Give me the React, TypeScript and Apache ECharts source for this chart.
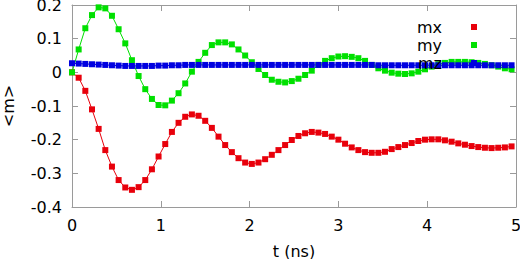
import React, { useEffect, useRef } from "react";
import * as echarts from "echarts";

const timeNs = [
  0, 0.075, 0.15, 0.225, 0.3, 0.375, 0.45, 0.525, 0.6, 0.675,
  0.75, 0.825, 0.9, 0.975, 1.05, 1.125, 1.2, 1.275, 1.35, 1.425,
  1.5, 1.575, 1.65, 1.725, 1.8, 1.875, 1.95, 2.025, 2.1, 2.175,
  2.25, 2.325, 2.4, 2.475, 2.55, 2.625, 2.7, 2.775, 2.85, 2.925,
  3.0, 3.075, 3.15, 3.225, 3.3, 3.375, 3.45, 3.525, 3.6, 3.675,
  3.75, 3.825, 3.9, 3.975, 4.05, 4.125, 4.2, 4.275, 4.35, 4.425,
  4.5, 4.575, 4.65, 4.725, 4.8, 4.875, 4.95,
];

const mx = [
  0, -0.016, -0.055, -0.11, -0.168, -0.231, -0.28, -0.32, -0.342, -0.349,
  -0.341, -0.32, -0.288, -0.25, -0.213, -0.177, -0.15, -0.132, -0.125, -0.129,
  -0.144, -0.165, -0.191, -0.216, -0.237, -0.255, -0.268, -0.272, -0.268, -0.258,
  -0.245, -0.231, -0.216, -0.201, -0.189, -0.181, -0.177, -0.179, -0.183, -0.191,
  -0.2, -0.212, -0.223, -0.231, -0.237, -0.239, -0.239, -0.236, -0.228, -0.222,
  -0.216, -0.21, -0.204, -0.2, -0.199, -0.199, -0.202, -0.206, -0.211, -0.215,
  -0.219, -0.222, -0.224, -0.225, -0.224, -0.223, -0.22,
];

const my = [
  0, 0.068, 0.131, 0.17, 0.193, 0.19, 0.168, 0.128, 0.086, 0.036,
  -0.011, -0.05, -0.079, -0.097, -0.098, -0.084, -0.062, -0.033, 0.002, 0.031,
  0.058, 0.081, 0.089, 0.089, 0.083, 0.068, 0.05, 0.03, 0.01, -0.008,
  -0.022, -0.028, -0.03, -0.026, -0.019, -0.008, 0.005, 0.022, 0.034, 0.042,
  0.047, 0.048, 0.046, 0.042, 0.034, 0.022, 0.012, 0.005, -0.001, -0.004,
  -0.005, -0.003, 0.002, 0.009, 0.017, 0.024, 0.028, 0.031, 0.031, 0.031,
  0.03, 0.028, 0.025, 0.021, 0.017, 0.012, 0.009,
];

const mz = [
  0.027, 0.026, 0.025, 0.024, 0.023, 0.022, 0.021, 0.02, 0.019, 0.019,
  0.019, 0.019, 0.019, 0.02, 0.02, 0.021, 0.021, 0.022, 0.022, 0.022,
  0.022, 0.022, 0.022, 0.022, 0.022, 0.022, 0.022, 0.022, 0.022, 0.022,
  0.022, 0.022, 0.022, 0.022, 0.022, 0.022, 0.022, 0.022, 0.022, 0.022,
  0.022, 0.022, 0.022, 0.022, 0.022, 0.022, 0.021, 0.021, 0.021, 0.021,
  0.021, 0.021, 0.021, 0.021, 0.021, 0.021, 0.021, 0.021, 0.021, 0.021,
  0.021, 0.021, 0.021, 0.021, 0.021, 0.021, 0.021,
];

const seriesNames = ["mx", "my", "mz"];
const seriesColors = ["#e8000b", "#00e000", "#0000e0"];
const seriesValues = [mx, my, mz];

const xTicks = { min: 0, max: 5, interval: 1 };
const yTicks = { min: -0.4, max: 0.2, interval: 0.1 };

const FONT = "DejaVu Sans";
const FRAME = "#9a9a9a";

export default function App() {
  const ref = useRef<HTMLDivElement>(null);
  useEffect(() => {
    if (!ref.current) return;
    const chart = echarts.init(ref.current, null, { renderer: "svg" });
    const fmtY = (v: number) => String(Math.round(v * 10) / 10);
    const baseX = {
      type: "value",
      min: xTicks.min,
      max: xTicks.max,
      interval: xTicks.interval,
      splitLine: { show: false },
      axisLine: { show: true, onZero: false, lineStyle: { color: FRAME, width: 1 } },
      axisTick: { show: true, inside: true, length: 6, lineStyle: { color: FRAME, width: 1 } },
    };
    const baseY = {
      type: "value",
      min: yTicks.min,
      max: yTicks.max,
      interval: yTicks.interval,
      splitLine: { show: false },
      axisLine: { show: true, onZero: false, lineStyle: { color: FRAME, width: 1 } },
      axisTick: { show: true, inside: true, length: 6, lineStyle: { color: FRAME, width: 1 } },
    };
    chart.setOption({
      animation: false,
      textStyle: { fontFamily: FONT },
      grid: {
        left: 72,
        right: 4,
        top: 5,
        bottom: 52,
        show: false,
        containLabel: false,
        outerBoundsMode: "none",
      },
      legend: {
        data: seriesNames,
        orient: "vertical",
        right: 38,
        top: 14,
        align: "right",
        icon: "rect",
        itemWidth: 6,
        itemHeight: 6,
        itemGap: 2,
        textStyle: {
          fontSize: 16,
          lineHeight: 16,
          color: "#000",
          fontFamily: FONT,
          padding: [0, 24, 0, 0],
        },
      },
      xAxis: [
        {
          ...baseX,
          position: "bottom",
          name: "t (ns)",
          nameLocation: "middle",
          nameGap: 36,
          nameTextStyle: { fontSize: 16, color: "#000", fontFamily: FONT },
          axisLabel: { color: "#000", fontSize: 16, margin: 10, fontFamily: FONT },
        },
        { ...baseX, position: "top", axisLabel: { show: false } },
      ],
      yAxis: [
        {
          ...baseY,
          position: "left",
          name: "<m>",
          nameLocation: "middle",
          nameGap: 56,
          nameRotate: 90,
          nameTextStyle: { fontSize: 16, color: "#000", fontFamily: FONT },
          axisLabel: {
            color: "#000",
            fontSize: 16,
            lineHeight: 10,
            margin: 10,
            fontFamily: FONT,
            formatter: fmtY,
          },
        },
        { ...baseY, position: "right", axisLabel: { show: false } },
      ],
      series: seriesNames.map((name, k) => ({
        name,
        type: "line",
        xAxisIndex: 0,
        yAxisIndex: 0,
        data: timeNs.map((t, i) => [t, seriesValues[k][i]]),
        symbol: "rect",
        symbolSize: 6,
        showAllSymbol: true,
        itemStyle: { color: seriesColors[k] },
        lineStyle: { color: seriesColors[k], width: 1 },
        clip: false,
      })),
    });
    return () => chart.dispose();
  }, []);
  return (
    <div
      ref={ref}
      style={{ position: "fixed", left: 0, top: 0, width: 520, height: 259, background: "#fff" }}
    />
  );
}
